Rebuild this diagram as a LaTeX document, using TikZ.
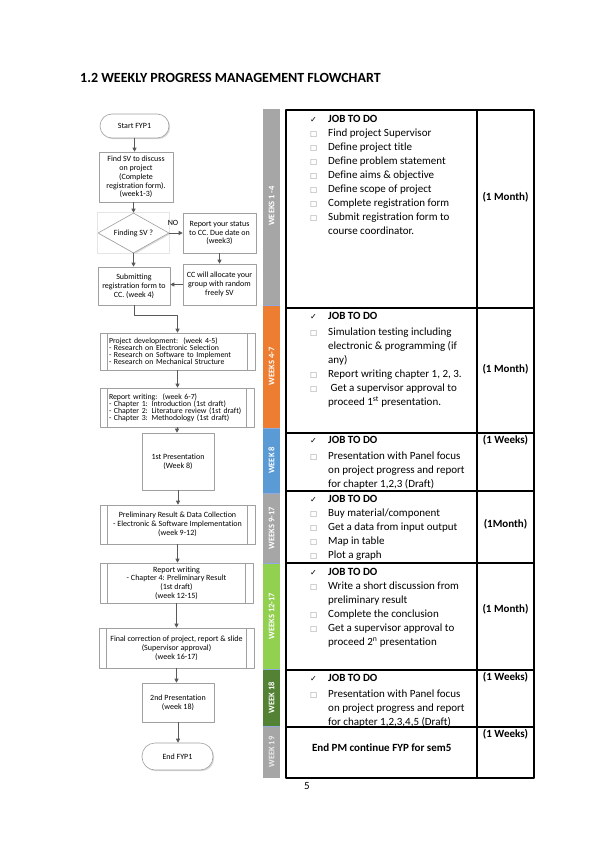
\documentclass[tikz,border=0pt]{standalone}
\usepackage{fontspec}
\setmainfont{Carlito}[Ligatures=NoCommon]
\newfontfamily\symfont{DejaVu Sans}
\usetikzlibrary{arrows.meta,shapes.geometric,shadows}
\definecolor{barGray}{HTML}{A6A6A6}
\definecolor{barOrange}{HTML}{ED7D31}
\definecolor{barBlue}{HTML}{5B9BD5}
\definecolor{barLime}{HTML}{92D050}
\definecolor{barGreen}{HTML}{548235}
\definecolor{barSep}{HTML}{8FAADC}
\definecolor{boxLine}{HTML}{A0A0A0}
\definecolor{arrLine}{HTML}{595959}
\newcommand\chk{\makebox[18pt][l]{\symfont\fontsize{8}{8}\selectfont ✓}}
\newcommand\sqb{\makebox[18pt][l]{\color{black!45}\symfont\fontsize{7.5}{7.5}\selectfont □}}
\newcommand\cnt{\hspace*{18pt}}
\tikzset{
  flow/.style={draw=boxLine, line width=0.6pt, fill=white, inner sep=1pt, align=center,
    font=\fontsize{8}{8.8}\selectfont,
    drop shadow={shadow xshift=1.2pt, shadow yshift=-1.2pt, fill=black, opacity=0.15}},
  tight/.style={font=\fontsize{7.8}{7.1}\selectfont},
  arr/.style={draw=arrLine, line width=0.8pt, -{Triangle[length=4pt,width=4pt]}},
  weektxt/.style={rotate=90, text=white, inner sep=0pt, font=\bfseries\fontsize{8.5}{9}\selectfont},
  jobtxt/.style={anchor=base west, inner sep=0pt, font=\fontsize{11}{14}\selectfont},
  tabbold/.style={inner sep=0pt, font=\bfseries\fontsize{11}{13}\selectfont}
}
\begin{document}
\begin{tikzpicture}[x=1pt, y=-1pt, line join=round]
	\useasboundingbox (0,0) rectangle (595,842);
	\fill[white] (0,0) rectangle (595,842);
	\node[anchor=base west, inner sep=0pt, font=\bfseries\fontsize{14}{16}\selectfont] (title) at (80,82.5) {1.2 WEEKLY PROGRESS MANAGEMENT FLOWCHART};
	% flowchart
	\node[flow, rounded corners=12pt, minimum width=69pt, minimum height=24pt] (start) at (134.5,126) {Start FYP1};
	\node[flow, minimum width=74pt, minimum height=50pt] (findsv) at (136,177) {Find SV to discuss\\on project\\(Complete\\registration form).\\(week1-3)};
	\node[flow, diamond, aspect=1.775, minimum width=71pt, minimum height=40pt, inner sep=0pt] (dia) at (133.5,233) {Finding SV ?};
	\draw[black!10, line width=0.6pt] (dia.west |- dia.north) rectangle (dia.east |- dia.south);
	\node[flow, minimum width=73pt, minimum height=40pt] (report) at (219.5,233) {Report your status\\to CC. Due date on\\(week3)};
	\node[flow, minimum width=73pt, minimum height=41pt] (ccbox) at (219.5,284.5) {CC will allocate your\\group with random\\freely SV};
	\node[flow, minimum width=72pt, minimum height=38pt] (submit) at (134,286) {Submitting\\registration form to\\CC. (week 4)};
	\node[flow, tight, align=left, text width=137pt, inner xsep=9pt, minimum height=37pt] (projdev) at (177.5,351.5) {Project development:~~(week 4-5)\\- Research on Electronic Selection\\- Research on Software to Implement\\- Research on Mechanical Structure};
	\node[flow, tight, align=left, text width=136pt, inner xsep=9pt, minimum height=39pt] (rep1) at (177,407.5) {Report writing:~~(week 6-7)\\- Chapter 1: Introduction (1st draft)\\- Chapter 2: Literature review (1st draft)\\- Chapter 3: Methodology (1st draft)};
	\node[flow, minimum width=72pt, minimum height=57pt] (pres1) at (178,461.5) {1st Presentation\\(Week 8)};
	\node[flow, minimum width=155pt, minimum height=39pt] (prelim) at (177.5,524.5) {Preliminary Result \& Data Collection\\- Electronic \& Software Implementation\\(week 9-12)};
	\node[flow, minimum width=153pt, minimum height=40pt] (rep2) at (176.5,583) {Report writing\\- Chapter 4: Preliminary Result\\(1st draft)\\(week 12-15)};
	\node[flow, minimum width=155pt, minimum height=40pt] (final) at (176.5,648) {Final correction of project, report \& slide\\(Supervisor approval)\\(week 16-17)};
	\node[flow, minimum width=72pt, minimum height=39pt] (pres2) at (178,702.5) {2nd Presentation\\(week 18)};
	\node[flow, rounded corners=13pt, minimum width=71pt, minimum height=27pt] (endfyp) at (177.5,756.5) {End FYP1};
	\foreach \n in {projdev,rep1,prelim,rep2,final}
		\draw[boxLine, line width=0.6pt] ([xshift=8pt]\n.north west) -- ([xshift=8pt]\n.south west)
			([xshift=-8pt]\n.north east) -- ([xshift=-8pt]\n.south east);
	\draw[arr] (start.south) -- (start.south |- findsv.north);
	\draw[arr] (findsv.south -| dia.north) -- (dia.north);
	\draw[arr] (dia.east) -- (report.west);
	\node[inner sep=0pt, font=\fontsize{8}{8}\selectfont] (no) at (173,223) {NO};
	\draw[arr] (report.south) -- (ccbox.north);
	\draw[arr] (ccbox.west) -- (ccbox.west -| submit.east);
	\draw[arr] (dia.south) -- (dia.south |- submit.north);
	\draw[arr] (submit.south) -- ++(0,10) -| (projdev.north);
	\foreach \a/\b in {projdev/rep1, rep1/pres1, pres1/prelim, prelim/rep2, rep2/final, final/pres2, pres2/endfyp}
		\draw[arr] (\a.south) -- (\a.south |- \b.north);
	% week bars
	\fill[barGray] (263,109) rectangle (280,305);
	\fill[barOrange] (263,305) rectangle (280,428);
	\fill[barBlue] (263,428) rectangle (280,493);
	\fill[barGray] (263,493) rectangle (280,563);
	\fill[barLime] (263,563) rectangle (280,669);
	\fill[barGreen] (263,669) rectangle (280,726);
	\fill[barGray] (263,726) rectangle (280,778);
	\foreach \y in {305,428,493,563,669,726}
		\draw[barSep, line width=0.8pt] (263,\y) -- (280,\y);
	\node[weektxt] (wk1) at (271.5,206) {WEEKS 1 -4};
	\node[weektxt] (wk2) at (271.5,366.5) {WEEKS 4-7};
	\node[weektxt] (wk3) at (271.5,460.5) {WEEK 8};
	\node[weektxt] (wk4) at (271.5,528) {WEEKS 9-17};
	\node[weektxt] (wk5) at (271.5,616) {WEEKS 12-17};
	\node[weektxt] (wk6) at (271.5,697.5) {WEEK 18};
	\node[weektxt, text=white!85!gray] (wk7) at (271.5,752) {WEEK 19};
	% table
	\draw[line width=1.5pt] (286,110) rectangle (534,778);
	\draw[line width=1.5pt] (477,110) -- (477,778);
	\foreach \y in {308,433,491,563,670,727}
		\draw[line width=1.2pt] (286,\y) -- (534,\y);
	\node[jobtxt] (job1) at (310,123) {\begin{tabular}[t]{@{}l@{}}
		\chk\textbf{JOB TO DO}\\
		\sqb Find project Supervisor\\
		\sqb Define project title\\
		\sqb Define problem statement\\
		\sqb Define aims \& objective\\
		\sqb Define scope of project\\
		\sqb Complete registration form\\
		\sqb Submit registration form to\\
		\cnt course coordinator.
	\end{tabular}};
	\node[jobtxt] (job2) at (310,319.3) {\begin{tabular}[t]{@{}l@{}}
		\chk\textbf{JOB TO DO}\\[2pt]
		\sqb Simulation testing including\\
		\cnt electronic \& programming (if\\
		\cnt any)\\
		\sqb Report writing chapter 1, 2, 3.\\
		\sqb\ Get a supervisor approval to\\
		\cnt proceed 1\textsuperscript{st} presentation.
	\end{tabular}};
	\node[jobtxt] (job3) at (310,443.6) {\begin{tabular}[t]{@{}l@{}}
		\chk\textbf{JOB TO DO}\\[2pt]
		\sqb Presentation with Panel focus\\
		\cnt on project progress and report\\
		\cnt for chapter 1,2,3 (Draft)
	\end{tabular}};
	\node[jobtxt] (job4) at (310,502.6) {\begin{tabular}[t]{@{}l@{}}
		\chk\textbf{JOB TO DO}\\
		\sqb Buy material/component\\
		\sqb Get a data from input output\\
		\sqb Map in table\\
		\sqb Plot a graph
	\end{tabular}};
	\node[jobtxt] (job5) at (310,575.3) {\begin{tabular}[t]{@{}l@{}}
		\chk\textbf{JOB TO DO}\\
		\sqb Write a short discussion from\\
		\cnt preliminary result\\
		\sqb Complete the conclusion\\
		\sqb Get a supervisor approval to\\
		\cnt proceed 2\textsuperscript{n} presentation
	\end{tabular}};
	\node[jobtxt] (job6) at (310,681) {\begin{tabular}[t]{@{}l@{}}
		\chk\textbf{JOB TO DO}\\[2pt]
		\sqb Presentation with Panel focus\\
		\cnt on project progress and report\\
		\cnt for chapter 1,2,3,4,5 (Draft)
	\end{tabular}};
	\node[tabbold] (endpm) at (381.7,747.3) {End PM continue FYP for sem5};
	\node[tabbold] (dur1) at (505.5,197) {(1 Month)};
	\node[tabbold] (dur2) at (505.5,369) {(1 Month)};
	\node[tabbold] (dur3) at (505.5,440.7) {(1 Weeks)};
	\node[tabbold] (dur4) at (505.5,524) {(1Month)};
	\node[tabbold] (dur5) at (505.5,609.3) {(1 Month)};
	\node[tabbold] (dur6) at (505.5,677.7) {(1 Weeks)};
	\node[tabbold] (dur7) at (505.5,734.7) {(1 Weeks)};
	\node[inner sep=0pt, font=\fontsize{11}{13}\selectfont] (pgno) at (307,786) {5};
\end{tikzpicture}
\end{document}
